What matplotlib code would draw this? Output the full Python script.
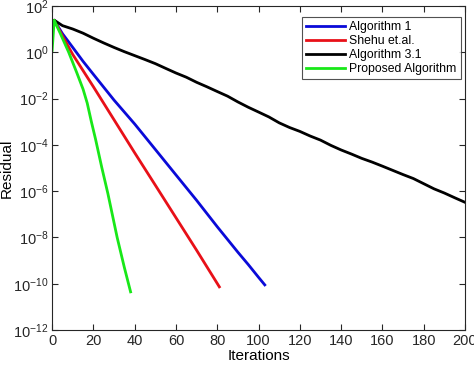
import numpy as np
import matplotlib
matplotlib.use("Agg")
import matplotlib.pyplot as plt
from matplotlib.ticker import FixedLocator, FuncFormatter

plt.rcParams["font.family"] = ["Liberation Sans", "DejaVu Sans"]
plt.rcParams["mathtext.default"] = "regular"

# residual history
ALG1_IT = [0, 1, 5, 10, 15, 20, 30, 40, 50, 60, 70, 80, 90, 95, 100, 103]
ALG1_RES = [2.1e1, 2.4e1, 6.3e0, 1.6e0, 4.0e-1, 1.1e-1, 8.5e-3, 7.9e-4, 6.3e-5,
            5.0e-6, 4.0e-7, 2.9e-8, 2.3e-9, 6.8e-10, 1.9e-10, 9.0e-11]

SHEHU_IT = [0, 1, 5, 10, 20, 30, 40, 50, 60, 70, 81]
SHEHU_RES = [2.1e1, 2.4e1, 5.0e0, 7.9e-1, 3.2e-2, 1.2e-3, 4.5e-5, 1.8e-6,
             7.1e-8, 2.8e-9, 7.4e-11]

ALG31_IT = [0, 1, 5, 10, 15, 20, 25, 30, 35, 40, 45, 50, 55, 60, 65, 70, 75,
            80, 85, 90, 95, 100, 105, 110, 115, 120, 125, 130, 135, 140, 145,
            150, 155, 160, 165, 170, 175, 180, 185, 190, 195, 200]
ALG31_RES = [2.1e1, 2.4e1, 1.4e1, 1.0e1, 6.6e0, 4.0e0, 2.5e0, 1.6e0, 1.05e0,
             7.1e-1, 4.8e-1, 3.2e-1, 2.0e-1, 1.26e-1, 8.3e-2, 5.0e-2, 3.2e-2,
             2.0e-2, 1.26e-2, 7.1e-3, 4.2e-3, 2.6e-3, 1.6e-3, 8.9e-4, 5.6e-4,
             3.8e-4, 2.4e-4, 1.6e-4, 9.5e-5, 6.0e-5, 4.0e-5, 2.6e-5, 1.8e-5,
             1.2e-5, 7.9e-6, 5.2e-6, 3.5e-6, 2.1e-6, 1.26e-6, 8.3e-7, 5.2e-7,
             3.3e-7]

PROP_IT = [0, 1, 4, 8, 12, 15, 17, 19, 21, 24, 27, 31.5, 35, 38]
PROP_RES = [1.2e0, 2.4e1, 6.3e0, 1.0e0, 1.26e-1, 2.5e-2, 6.3e-3, 1.0e-3,
            1.8e-4, 1.1e-5, 7.9e-7, 1.0e-8, 5.0e-10, 4.5e-11]

LABELS = ["Algorithm 1", "Shehu et.al.", "Algorithm 3.1", "Proposed Algorithm"]
COLORS = ["#0a0ad8", "#e81018", "#000000", "#18e818"]

fig = plt.figure(figsize=(4.74, 3.66), dpi=100)
ax = fig.add_axes([0.110, 0.098, 0.871, 0.886])

series = [(ALG1_IT, ALG1_RES), (SHEHU_IT, SHEHU_RES),
          (ALG31_IT, ALG31_RES), (PROP_IT, PROP_RES)]
for (it, res), lab, col in zip(series, LABELS, COLORS):
    ax.plot(it, res, color=col, linewidth=2.0, label=lab)

ax.set_yscale("log")
ax.set_xlim(0, 200)
ax.set_ylim(1e-12, 1e2)
ax.set_xticks(np.arange(0, 201, 20))
ax.yaxis.set_major_locator(FixedLocator([10.0 ** e for e in range(-12, 3, 2)]))
ax.yaxis.set_minor_locator(FixedLocator([]))
ax.yaxis.set_major_formatter(FuncFormatter(
    lambda v, p: r"$10^{%d}$" % int(round(np.log10(v)))))
ax.tick_params(direction="in", top=True, right=True, labelsize=10.5,
               length=4, width=0.8, colors="#262626", pad=2.5)
for s in ax.spines.values():
    s.set_linewidth(0.8)
    s.set_color("#262626")

ax.set_xlabel("Iterations", fontsize=11, labelpad=1)
ax.set_ylabel("Residual", fontsize=11, labelpad=0)

leg = ax.legend(loc="upper right", bbox_to_anchor=(0.99, 0.965), fontsize=8.8,
                frameon=True, fancybox=False, handlelength=3.2,
                handletextpad=0.35, labelspacing=0.15, borderpad=0.35,
                borderaxespad=0.0)
leg.get_frame().set_edgecolor("#262626")
leg.get_frame().set_linewidth(0.8)

fig.savefig("out.png", dpi=100)
